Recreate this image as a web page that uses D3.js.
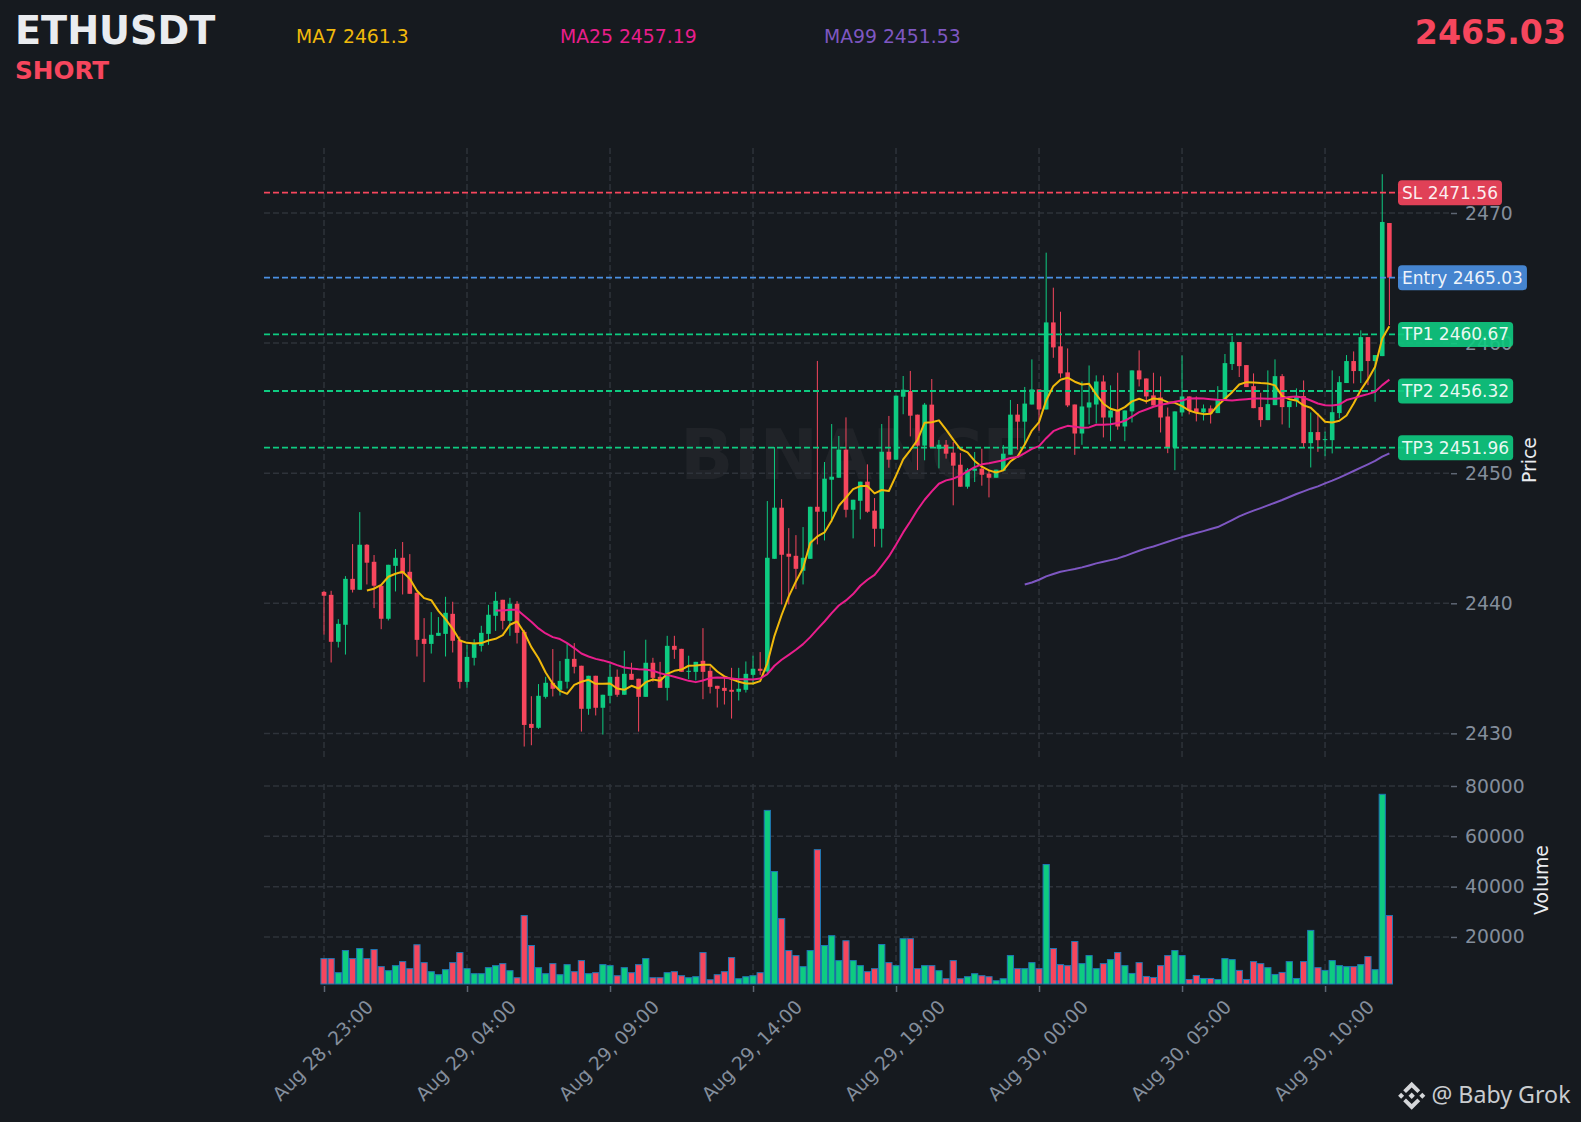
<!DOCTYPE html>
<html lang="en">
  <head>
    <meta charset="UTF-8" />
    <title>ETHUSDT</title>
    <script src="https://d3js.org/d3.v7.min.js"></script>
    <style>
      body { margin: 0; background: #161a1f; }
      svg { display: block; font-family: "DejaVu Sans", sans-serif; }
    </style>
  </head>

  <body>
    <svg width="1581" height="1122"></svg>
    <script>
      const opens = [
        2440.88,2440.65,2437.04,2438.35,2441.88,2441.04,2444.50,2443.19,2441.35,2438.81,
        2442.88,2443.50,2442.42,2440.81,2437.27,2436.88,2437.50,2437.65,2439.19,2437.19,
        2433.96,2435.81,2436.73,2437.65,2439.04,2440.27,2438.65,2439.96,2437.81,2430.73,
        2430.43,2432.81,2433.89,2433.35,2433.97,2435.73,2435.20,2431.89,2434.43,2431.97,
        2432.89,2434.35,2432.97,2434.58,2434.20,2432.81,2435.43,2434.35,2433.50,2436.73,
        2436.50,2434.73,2434.73,2435.58,2434.81,2433.66,2433.50,2433.35,2433.20,2433.35,
        2434.50,2434.97,2434.76,2443.42,2447.35,2443.81,2443.65,2442.50,2443.42,2447.42,
        2447.04,2449.50,2449.65,2451.81,2447.19,2447.88,2449.35,2447.12,2445.73,2451.65,
        2451.04,2455.88,2456.32,2454.50,2452.12,2455.27,2451.88,2452.19,2451.58,2450.65,
        2448.96,2450.19,2450.35,2449.96,2449.65,2450.19,2451.42,2454.50,2453.96,2455.28,
        2456.44,2454.90,2461.59,2459.75,2457.75,2455.28,2453.05,2455.05,2455.28,2457.05,
        2454.28,2454.82,2453.59,2454.75,2457.90,2457.28,2455.98,2455.82,2454.36,2451.98,
        2454.67,2455.90,2454.98,2454.67,2454.98,2454.62,2455.62,2458.39,2460.08,2458.31,
        2456.69,2455.08,2454.08,2455.23,2457.46,2455.08,2455.54,2455.93,2452.31,2453.16,
        2452.59,2452.54,2454.62,2456.93,2458.62,2457.85,2460.46,2458.62,2459.00,2469.23
      ];
      const closes = [
        2440.58,2437.04,2438.42,2441.88,2441.04,2444.50,2443.12,2441.35,2438.81,2442.96,
        2443.50,2442.27,2440.73,2437.19,2436.88,2437.58,2437.73,2439.27,2437.12,2433.96,
        2435.88,2436.88,2437.73,2439.12,2440.19,2438.65,2439.96,2437.73,2430.65,2430.42,
        2432.89,2433.89,2433.43,2434.04,2435.73,2435.12,2431.89,2434.43,2431.97,2432.97,
        2434.35,2432.97,2434.58,2434.12,2432.81,2435.43,2434.27,2433.50,2436.73,2436.43,
        2434.73,2434.81,2435.50,2434.73,2433.58,2433.43,2433.27,2433.20,2433.43,2434.58,
        2434.97,2434.81,2443.50,2447.35,2443.73,2443.58,2442.65,2443.50,2447.42,2447.04,
        2449.58,2449.73,2451.81,2447.19,2447.96,2449.35,2447.04,2445.73,2451.65,2451.04,
        2455.96,2456.42,2454.42,2452.12,2455.27,2451.99,2452.19,2451.50,2450.58,2448.96,
        2450.27,2450.35,2449.88,2449.65,2450.27,2451.50,2454.50,2453.96,2455.35,2456.44,
        2454.90,2461.59,2459.67,2457.67,2455.21,2453.05,2455.13,2455.44,2457.05,2454.28,
        2454.82,2453.59,2454.82,2457.90,2457.21,2455.90,2455.21,2454.28,2451.98,2454.75,
        2455.90,2454.82,2454.67,2454.98,2454.59,2455.62,2458.46,2460.08,2458.23,2456.62,
        2455.00,2454.08,2455.31,2457.46,2455.08,2455.54,2455.85,2452.31,2453.16,2452.54,
        2452.62,2454.69,2457.00,2458.62,2457.85,2460.46,2458.62,2459.08,2469.31,2465.03
      ];
      const highs = [
        2440.94,2440.96,2438.78,2442.09,2444.55,2447.01,2444.55,2443.71,2441.35,2442.96,
        2444.17,2444.71,2443.78,2440.81,2438.86,2439.32,2438.94,2440.50,2440.12,2437.45,
        2436.81,2437.24,2438.27,2439.88,2440.88,2440.27,2440.42,2440.17,2437.96,2432.86,
        2433.79,2434.35,2436.48,2435.56,2436.94,2436.94,2435.20,2434.43,2434.43,2432.97,
        2435.30,2434.91,2436.35,2435.43,2434.20,2437.20,2435.81,2435.50,2437.50,2437.50,
        2436.50,2435.97,2435.50,2438.09,2435.14,2433.66,2434.38,2435.04,2435.04,2435.53,
        2435.97,2436.25,2447.86,2452.01,2448.01,2445.78,2445.24,2445.86,2447.42,2458.63,
        2450.86,2453.78,2452.86,2454.29,2447.96,2449.35,2450.68,2448.09,2453.78,2454.40,
        2455.96,2457.47,2457.86,2454.50,2455.40,2457.24,2452.55,2452.55,2452.40,2451.55,
        2450.40,2451.63,2451.88,2450.27,2450.27,2452.17,2455.63,2455.32,2456.63,2458.75,
        2456.44,2466.95,2464.26,2462.41,2459.59,2455.28,2457.05,2458.28,2457.52,2457.52,
        2456.75,2457.72,2454.82,2457.90,2459.44,2457.28,2457.72,2457.44,2455.05,2454.75,
        2459.05,2455.90,2455.90,2455.28,2455.21,2456.69,2459.16,2460.54,2460.08,2458.31,
        2457.67,2456.18,2457.90,2458.75,2457.62,2455.54,2456.52,2457.13,2454.67,2454.62,
        2453.20,2457.90,2457.46,2459.08,2459.36,2460.98,2460.46,2459.08,2472.98,2469.23
      ];
      const lows = [
        2437.60,2435.45,2436.60,2436.06,2440.83,2441.04,2441.45,2439.63,2438.01,2438.68,
        2440.91,2440.68,2440.73,2435.91,2433.94,2436.14,2437.50,2435.91,2436.22,2433.45,
        2433.50,2435.22,2436.29,2436.81,2437.88,2437.99,2437.50,2436.91,2428.99,2429.09,
        2430.35,2432.68,2432.84,2432.91,2433.45,2434.61,2430.14,2431.43,2431.38,2429.91,
        2432.30,2432.81,2432.97,2434.12,2430.14,2432.81,2433.97,2433.50,2432.53,2435.73,
        2434.73,2434.17,2434.07,2432.63,2433.07,2431.99,2432.22,2431.14,2432.53,2433.14,
        2433.73,2434.50,2434.60,2443.42,2439.91,2439.91,2441.09,2441.45,2443.42,2444.53,
        2444.83,2446.24,2449.65,2446.60,2444.99,2446.45,2446.96,2444.35,2444.29,2450.42,
        2451.04,2454.53,2452.83,2450.24,2450.99,2451.99,2450.37,2451.12,2447.53,2448.96,
        2448.81,2449.32,2449.04,2448.14,2449.65,2450.19,2451.42,2451.81,2452.19,2455.28,
        2453.26,2454.90,2458.87,2457.34,2455.08,2451.41,2452.18,2453.75,2453.82,2452.75,
        2452.46,2453.34,2452.46,2453.90,2456.67,2455.34,2455.21,2453.13,2451.54,2450.23,
        2454.36,2454.52,2453.98,2454.05,2453.82,2454.62,2455.62,2457.93,2457.39,2456.62,
        2455.00,2453.57,2454.08,2455.23,2453.75,2453.49,2455.10,2451.98,2450.44,2451.64,
        2451.31,2451.52,2454.21,2456.93,2456.90,2456.93,2456.77,2455.49,2459.00,2461.39
      ];
      const volumes = [
        11400,11400,5800,14600,11400,15400,11400,15000,8200,6600,
        8600,10200,7400,16900,9800,6200,5000,7000,9800,13800,
        7400,5400,5400,7800,8600,9400,6600,3800,28500,16600,
        7800,5400,9400,5000,9000,6200,10600,5400,5800,9000,
        8600,4600,7800,5800,9000,11400,3800,3800,5800,6200,
        4600,3800,4200,13800,3000,5000,6200,11800,3400,4200,
        4600,5800,70300,46000,27300,14600,12600,8200,14600,54700,
        16600,20500,10600,18500,10600,8600,6200,7400,17000,9800,
        8600,19300,19300,7400,8600,8600,6600,3400,10600,3400,
        4200,5400,4600,4200,2600,3400,12600,7400,7400,9800,
        7400,48800,15400,9000,8600,18200,9400,12600,7400,9400,
        11000,13800,8600,5500,9800,4300,3900,8600,12600,14600,
        12600,3100,4700,3500,3500,3100,11400,11000,6700,3100,
        10200,9400,7800,5100,5900,10200,3500,10200,22600,7800,
        6700,10600,8600,8200,8200,9000,12200,7000,76700,28500
      ];

      // moving averages, first value sits on candle ma7Start / ma25Start / ma99Start
      const ma7Start = 6;
      const ma7 = [
        2440.99,2441.12,2441.42,2442.04,2442.27,2442.42,2441.88,2440.96,2440.40,2440.24,2439.42,2438.78,
        2438.04,2437.14,2436.96,2436.91,2436.94,2437.14,2437.27,2437.55,2438.35,2438.60,2437.76,2436.63,
        2435.78,2434.68,2433.81,2433.27,2433.04,2433.73,2433.97,2434.12,2433.81,2433.81,2433.84,2433.45,
        2433.35,2433.66,2433.45,2433.94,2434.14,2434.04,2434.58,2434.81,2434.91,2435.20,2435.22,2435.27,
        2435.27,2434.76,2434.38,2434.17,2433.97,2433.84,2433.84,2434.02,
        2435.39,2437.50,2439.10,2440.53,2441.68,2442.71,2444.63,2445.14,2445.45,2446.37,2447.50,2448.12,
        2448.78,2449.01,2449.01,2448.45,2448.71,2448.63,2449.81,2451.06,2451.78,2452.55,2453.88,2453.91,
        2454.06,2453.35,2452.58,2451.86,2451.60,2450.94,2450.50,2450.22,2450.06,2450.22,2450.91,2451.29,2452.20,
        2453.28,2453.93,2455.59,2456.69,2457.18,2457.34,2457.03,2456.82,2456.87,2456.05,2455.34,2454.95,
        2454.80,2455.08,2455.52,2455.72,2455.52,2455.75,2455.69,2455.46,2455.41,2455.16,2454.82,2454.64,2454.54,2454.57,2455.21,
        2455.72,2456.23,2456.82,2457.00,2456.98,2456.93,2456.90,2456.75,2455.93,2455.69,2455.59,2455.21,
        2455.03,2454.52,2453.95,2453.90,2454.03,2454.44,2455.36,2456.39,2457.21,2458.18,2460.36,2461.30
      ];
      const ma25Start = 24;
      const ma25 = [
        2439.45,2439.45,2439.50,2439.50,2439.04,2438.58,2438.07,
        2437.68,2437.40,2437.25,2436.94,2436.56,2436.14,2435.91,2435.73,2435.61,2435.45,2435.25,2435.07,
        2434.99,2434.94,2434.91,2434.81,2434.63,2434.50,2434.35,2434.20,2434.04,2433.94,2434.07,2434.25,
        2434.30,2434.27,2434.22,2434.17,2434.17,2434.14,2434.22,2434.56,2435.20,2435.66,2436.04,2436.43,2436.86,
        2437.40,2438.01,2438.60,2439.24,2439.83,2440.22,2440.71,2441.35,2441.81,2442.19,2442.88,2443.60,
        2444.50,2445.45,2446.29,2447.19,2447.96,2448.60,2449.19,2449.45,2449.58,2449.81,2450.14,2450.47,
        2450.68,2450.76,2450.88,2450.99,2451.17,2451.24,2451.55,
        2451.87,2452.08,2452.69,2453.23,2453.46,2453.64,2453.57,2453.49,2453.52,2453.72,2453.72,2453.77,
        2453.85,2454.03,2454.34,2454.69,2454.90,2455.11,2455.26,2455.36,2455.49,2455.59,2455.75,2455.77,2455.75,2455.69,
        2455.64,2455.62,2455.59,2455.64,2455.69,2455.75,2455.75,2455.72,2455.72,2455.77,2455.85,2455.90,
        2455.80,2455.59,2455.36,2455.23,2455.21,2455.28,2455.62,2455.77,2455.93,2456.08,2456.26,2456.77,2457.19
      ];
      const ma99Start = 98;
      const ma99 = [
        2441.45,2441.60,2441.81,2442.07,2442.25,2442.43,2442.53,2442.63,2442.76,2442.91,2443.07,2443.19,
        2443.32,2443.45,2443.63,2443.84,2444.04,2444.22,2444.37,2444.55,2444.73,2444.91,2445.09,2445.25,
        2445.40,2445.55,2445.71,2445.86,2446.12,2446.40,2446.68,2446.91,2447.12,2447.32,2447.53,2447.73,
        2447.94,2448.17,2448.40,2448.60,2448.81,2448.99,2449.22,2449.43,2449.66,2449.91,2450.17,2450.43,
        2450.68,2450.94,2451.27,2451.53
      ];

      const levelNames = ["SL", "Entry", "TP1", "TP2", "TP3"];
      const levelPrices = [2471.56, 2465.03, 2460.67, 2456.32, 2451.96];
      const levelColors = ["#f6465d", "#4a90e2", "#0ecb81", "#0ecb81", "#0ecb81"];

      const priceTicks = [2430, 2440, 2450, 2460, 2470];
      const volumeTicks = [20000, 40000, 60000, 80000];
      const timeTicks = [0, 20, 40, 60, 80, 100, 120, 140];
      const timeLabels = [
        "Aug 28, 23:00", "Aug 29, 04:00", "Aug 29, 09:00", "Aug 29, 14:00",
        "Aug 29, 19:00", "Aug 30, 00:00", "Aug 30, 05:00", "Aug 30, 10:00"
      ];

      const red = "#f6465d";
      const green = "#0ecb81";
      const gridColor = "#2e333a";
      const tickColor = "#848e9c";

      const svg = d3.select("svg");
      const left = 264;
      const right = 1451;

      const x = d3.scaleLinear().domain([0, 149]).range([324, 1389.4]);
      const yPrice = d3.scaleLinear().domain([2430, 2470]).range([733.4, 213]);
      const yVolume = d3.scaleLinear().domain([1300, 80000]).range([984, 786]);

      const priceTop = 148, priceBottom = 757, volumeTop = 784, volumeBottom = 984;

      // watermark
      svg.append("text")
        .attr("x", 855).attr("y", 479)
        .attr("text-anchor", "middle")
        .attr("font-size", 70).attr("font-weight", "bold")
        .attr("fill", "#ffffff").attr("fill-opacity", 0.045)
        .text("BINANCE");

      // grid
      const grid = svg.append("g")
        .attr("fill", "none")
        .attr("stroke", gridColor)
        .attr("stroke-width", 1.5)
        .attr("stroke-dasharray", "6,3");

      [[priceTop, priceBottom], [volumeTop, volumeBottom]].forEach(([a, b]) => {
        grid.selectAll(null).data(timeTicks).join("line")
          .attr("x1", (d) => x(d)).attr("x2", (d) => x(d))
          .attr("y1", a).attr("y2", b);
      });
      grid.selectAll(null).data(priceTicks).join("line")
        .attr("x1", left).attr("x2", right)
        .attr("y1", (d) => yPrice(d)).attr("y2", (d) => yPrice(d));
      grid.selectAll(null).data(volumeTicks).join("line")
        .attr("x1", left).attr("x2", right)
        .attr("y1", (d) => yVolume(d)).attr("y2", (d) => yVolume(d));

      // candles
      const candles = svg.append("g");
      const isUp = (i) => closes[i] >= opens[i];
      candles.selectAll("line").data(d3.range(opens.length)).join("line")
        .attr("x1", (i) => x(i)).attr("x2", (i) => x(i))
        .attr("y1", (i) => yPrice(highs[i])).attr("y2", (i) => yPrice(lows[i]))
        .attr("stroke", (i) => (isUp(i) ? green : red))
        .attr("stroke-width", 1);
      candles.selectAll("rect").data(d3.range(opens.length)).join("rect")
        .attr("x", (i) => x(i) - 2.3)
        .attr("width", 4.6)
        .attr("y", (i) => yPrice(Math.max(opens[i], closes[i])))
        .attr("height", (i) => Math.max(1, Math.abs(yPrice(opens[i]) - yPrice(closes[i]))))
        .attr("fill", (i) => (isUp(i) ? green : red));

      // volume bars
      svg.append("g").selectAll("rect").data(volumes).join("rect")
        .attr("x", (d, i) => x(i) - 3.1)
        .attr("width", 6.2)
        .attr("y", (d) => yVolume(d))
        .attr("height", (d) => yVolume(1300) - yVolume(d))
        .attr("fill", (d, i) => (isUp(i) ? green : red))
        .attr("stroke", "#1f77b4")
        .attr("stroke-width", 1);

      // trade levels
      svg.append("g").selectAll("line").data(levelPrices).join("line")
        .attr("x1", left).attr("x2", 1420)
        .attr("y1", (d) => yPrice(d)).attr("y2", (d) => yPrice(d))
        .attr("stroke", (d, i) => levelColors[i])
        .attr("stroke-width", 1.8)
        .attr("stroke-dasharray", "6,3");

      // moving averages
      const maLine = (start) => d3.line()
        .x((d, i) => x(i + start))
        .y((d) => yPrice(d));
      [[ma7, ma7Start, "#f0b90b"], [ma25, ma25Start, "#e91e8c"], [ma99, ma99Start, "#7e57c2"]]
        .forEach(([values, start, color]) => {
          svg.append("path")
            .datum(values)
            .attr("fill", "none")
            .attr("stroke", color)
            .attr("stroke-width", 2)
            .attr("stroke-linejoin", "round")
            .attr("d", maLine(start));
        });

      // axes
      const styleAxis = (g) => {
        g.select(".domain").remove();
        g.selectAll(".tick line").attr("stroke", "#5e6673").attr("stroke-width", 1.5);
        g.selectAll(".tick text").attr("fill", tickColor).attr("font-size", 18.8)
          .attr("font-family", "DejaVu Sans");
      };
      svg.append("g")
        .attr("transform", "translate(" + right + ",0)")
        .call(d3.axisRight(yPrice).tickValues(priceTicks).tickFormat(d3.format("d")).tickSize(6).tickPadding(8))
        .call(styleAxis);
      svg.append("g")
        .attr("transform", "translate(" + right + ",0)")
        .call(d3.axisRight(yVolume).tickValues(volumeTicks).tickFormat(d3.format("d")).tickSize(6).tickPadding(8))
        .call(styleAxis);
      svg.append("g")
        .attr("transform", "translate(0,986)")
        .call(d3.axisBottom(x).tickValues(timeTicks).tickFormat((d, i) => timeLabels[i]).tickSize(6))
        .call(styleAxis)
        .selectAll(".tick text")
        .attr("text-anchor", "middle")
        .attr("dy", 0).attr("y", 0)
        .attr("transform", "translate(3,69) rotate(-45)");

      // level labels on top of axis text
      const tags = svg.append("g").selectAll("g").data(levelPrices).join("g")
        .attr("transform", (d) => "translate(1398," + yPrice(d) + ")");
      const tagRects = tags.append("rect")
        .attr("y", -12.5).attr("height", 25).attr("rx", 4)
        .attr("fill", (d, i) => levelColors[i])
        .attr("fill-opacity", 0.9);
      const tagTexts = tags.append("text")
        .attr("x", 4).attr("dy", "0.35em")
        .attr("font-size", 17)
        .attr("fill", "#ffffff").attr("fill-opacity", 0.92)
        .text((d, i) => levelNames[i] + " " + d);
      tagRects.attr("width", function (d, i) {
        return tagTexts.nodes()[i].getComputedTextLength() + 8;
      });

      // axis titles
      svg.append("text")
        .attr("transform", "translate(1529,460) rotate(-90)")
        .attr("text-anchor", "middle").attr("dy", "0.35em")
        .attr("font-size", 18.8).attr("fill", "#eaecef")
        .text("Price");
      svg.append("text")
        .attr("transform", "translate(1541,880) rotate(-90)")
        .attr("text-anchor", "middle").attr("dy", "0.35em")
        .attr("font-size", 18.8).attr("fill", "#eaecef")
        .text("Volume");

      // header
      svg.append("text").attr("x", 15).attr("y", 43.5)
        .attr("font-size", 38.2).attr("font-weight", "bold").attr("fill", "#eaecef")
        .text("ETHUSDT");
      svg.append("text").attr("x", 15).attr("y", 79)
        .attr("font-size", 24.7).attr("font-weight", "bold").attr("fill", red)
        .text("SHORT");
      svg.append("text").attr("x", 296).attr("y", 43)
        .attr("font-size", 18.8).attr("fill", "#f0b90b").text("MA7 2461.3");
      svg.append("text").attr("x", 560).attr("y", 43)
        .attr("font-size", 18.8).attr("fill", "#e91e8c").text("MA25 2457.19");
      svg.append("text").attr("x", 824).attr("y", 43)
        .attr("font-size", 18.8).attr("fill", "#7e57c2").text("MA99 2451.53");
      svg.append("text").attr("x", 1566).attr("y", 44)
        .attr("text-anchor", "end")
        .attr("font-size", 33.2).attr("font-weight", "bold").attr("fill", red)
        .text("2465.03");

      // signature with logo
      const logo = svg.append("g")
        .attr("transform", "translate(1411.7,1095.7)")
        .attr("fill", "#d5d7da");
      logo.append("path").attr("d", "M0,-14L8.5,-5.5L5.7,-2.8L0,-8.2L-5.7,-2.8L-8.5,-5.5Z");
      logo.append("path").attr("d", "M0,14L8.5,5.5L5.7,2.8L0,8.2L-5.7,2.8L-8.5,5.5Z");
      logo.append("path").attr("d", "M0,-3.2L3.2,0L0,3.2L-3.2,0Z");
      logo.append("path").attr("d", "M-10.6,-3L-7.6,0L-10.6,3L-13.6,0Z");
      logo.append("path").attr("d", "M10.6,-3L13.6,0L10.6,3L7.6,0Z");
      svg.append("text").attr("x", 1431.5).attr("y", 1103)
        .attr("font-family", "Noto Sans")
        .attr("font-size", 23.2).attr("fill", "#c9cccf")
        .text("@ Baby Grok");
    </script>
  </body>
</html>
